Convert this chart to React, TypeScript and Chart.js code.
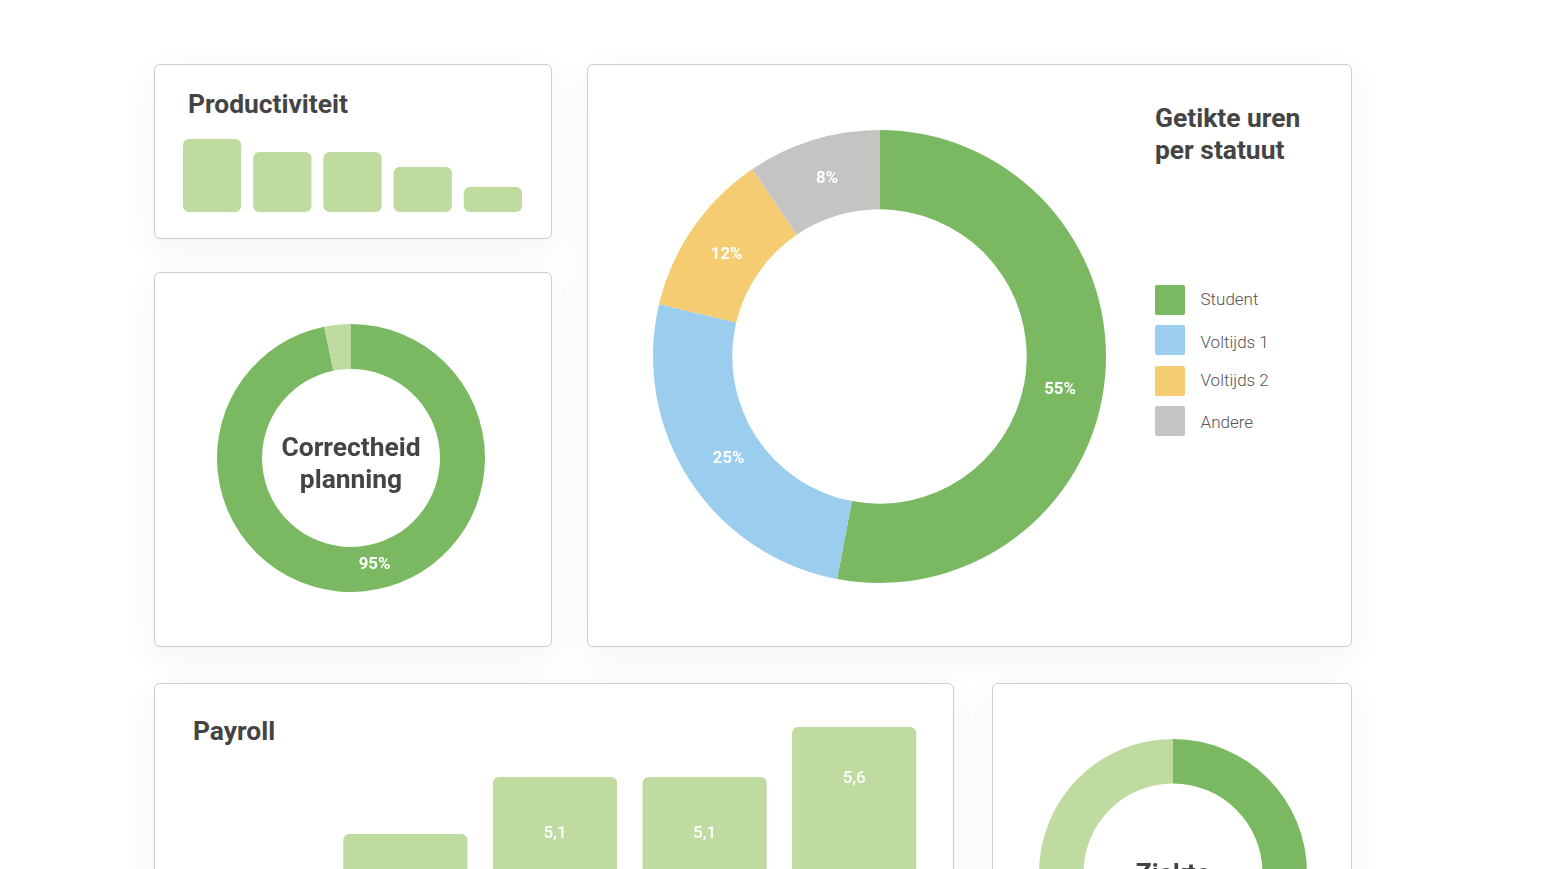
import { useEffect, useRef } from "react"
import { Chart, registerables } from "chart.js"
import type { ChartConfiguration, Plugin } from "chart.js"

Chart.register(...registerables)

const GREEN = "#7ab962"
const LIGHT_GREEN = "#bfdba0"
const BLUE = "#9acdee"
const YELLOW = "#f6cc72"
const GREY = "#c4c4c2"
const TEXT = "#444444"
const FONT = "Roboto, sans-serif"

const productivityValues = [7.3, 6, 6, 4.5, 2.5]

const planningSweep = [96.8, 3.2]
const planningTexts = ["95%", ""]

const statusCategories = ["Student", "Voltijds 1", "Voltijds 2", "Andere"]
const statusSweep = [53, 25.7, 11.8, 9.5]
const statusTexts = ["55%", "25%", "12%", "8%"]
const statusColors = [GREEN, BLUE, YELLOW, GREY]

// first bar sits below the fold in the reference, so it stays empty
const payrollValues = [null, 4.53, 5.1, 5.1, 5.6]

const sicknessSweep = [50, 50]

interface SliceLabelOptions {
  texts: string[]
  nudgeDeg?: number[]
  radiusShift?: number
  shift?: [number, number][]
}

// white percentages on the doughnut rings
const sliceLabels: Plugin<"doughnut"> = {
  id: "sliceLabels",
  afterDatasetsDraw(chart, _args, opts: SliceLabelOptions) {
    const ctx = chart.ctx
    ctx.save()
    ctx.font = `700 16.8px ${FONT}`
    ctx.fillStyle = "#ffffff"
    ctx.textAlign = "center"
    ctx.textBaseline = "middle"
    chart.getDatasetMeta(0).data.forEach((el: any, i: number) => {
      const text = opts.texts?.[i]
      if (!text) return
      const mid = (el.startAngle + el.endAngle) / 2 + ((opts.nudgeDeg?.[i] ?? 0) * Math.PI) / 180
      const r = (el.innerRadius + el.outerRadius) / 2 + (opts.radiusShift ?? 0)
      const [dx, dy] = opts.shift?.[i] ?? [0, 0]
      ctx.fillText(text, el.x + Math.cos(mid) * r + dx, el.y + Math.sin(mid) * r + dy)
    })
    ctx.restore()
  },
}

interface BarLabelOptions {
  below: number[]
}

// values inside the payroll bars, with a decimal comma
const barLabels: Plugin<"bar"> = {
  id: "barLabels",
  afterDatasetsDraw(chart, _args, opts: BarLabelOptions) {
    const ctx = chart.ctx
    const values = chart.data.datasets[0].data as (number | null)[]
    ctx.save()
    ctx.font = `500 17px ${FONT}`
    ctx.fillStyle = "#ffffff"
    ctx.textAlign = "center"
    ctx.textBaseline = "middle"
    chart.getDatasetMeta(0).data.forEach((el: any, i: number) => {
      const v = values[i]
      if (v == null) return
      ctx.fillText(v.toFixed(1).replace(".", ","), el.x, el.y + opts.below[i])
    })
    ctx.restore()
  },
}

function ChartCanvas({
  config,
  left,
  top,
  width,
  height,
}: {
  config: () => ChartConfiguration<any>
  left: number
  top: number
  width: number
  height: number
}) {
  const canvasRef = useRef<HTMLCanvasElement>(null)

  useEffect(() => {
    if (!canvasRef.current) return
    const chart = new Chart(canvasRef.current, config())
    return () => chart.destroy()
  }, [])

  return (
    <canvas
      ref={canvasRef}
      width={width}
      height={height}
      style={{ position: "absolute", left, top, width, height }}
    />
  )
}

function doughnutConfig(
  data: number[],
  colors: string[],
  cutout: string,
  labels: SliceLabelOptions,
): ChartConfiguration<any> {
  return {
    type: "doughnut",
    data: {
      labels: colors.map((_, i) => String(i)),
      datasets: [{ data, backgroundColor: colors, borderWidth: 0 }],
    },
    options: {
      responsive: false,
      animation: false,
      cutout,
      layout: { padding: 0 },
      plugins: {
        legend: { display: false },
        tooltip: { enabled: false },
        sliceLabels: labels,
      },
    },
    plugins: [sliceLabels],
  } as any
}

function barConfig(
  values: (number | null)[],
  min: number,
  max: number,
  borderRadius: any,
  below?: number[],
): ChartConfiguration<any> {
  return {
    type: "bar",
    data: {
      labels: values.map((_, i) => String(i + 1)),
      datasets: [
        {
          data: values,
          backgroundColor: LIGHT_GREEN,
          borderWidth: 0,
          borderRadius,
          borderSkipped: false,
          barPercentage: 0.83,
          categoryPercentage: 1,
        },
      ],
    },
    options: {
      responsive: false,
      animation: false,
      layout: { padding: 0 },
      scales: {
        x: { display: false },
        y: { display: false, min, max },
      },
      plugins: {
        legend: { display: false },
        tooltip: { enabled: false },
        barLabels: below ? { below } : undefined,
      },
    },
    plugins: below ? [barLabels] : [],
  } as any
}

function Card({ left, top, width, height }: { left: number; top: number; width: number; height: number }) {
  return (
    <div
      style={{
        position: "absolute",
        left,
        top,
        width,
        height,
        boxSizing: "border-box",
        background: "#fff",
        border: "1px solid #cdcdcd",
        borderRadius: 6,
        boxShadow: "0 10px 36px rgba(0,0,0,0.05)",
      }}
    />
  )
}

function Title({
  left,
  top,
  width,
  center,
  children,
}: {
  left: number
  top: number
  width?: number
  center?: boolean
  children: React.ReactNode
}) {
  return (
    <div
      style={{
        position: "absolute",
        left,
        top,
        width,
        font: `700 26.4px/32px ${FONT}`,
        color: TEXT,
        textAlign: center ? "center" : "left",
        whiteSpace: "nowrap",
      }}
    >
      {children}
    </div>
  )
}

const legendTops = [284.5, 325, 365.5, 406]
const legendTextCenters = [299, 342, 380, 422]

export default function App() {
  return (
    <div
      style={{
        position: "fixed",
        left: 0,
        top: 0,
        width: 1545,
        height: 869,
        overflow: "hidden",
        background: "#fff",
      }}
    >
      <Card left={154} top={64} width={398} height={175} />
      <Card left={154} top={272} width={398} height={375} />
      <Card left={587} top={64} width={765} height={583} />
      <Card left={154} top={683} width={800} height={400} />
      <Card left={992} top={683} width={360} height={400} />

      <Title left={188} top={88}>Productiviteit</Title>
      <ChartCanvas
        left={177}
        top={139}
        width={351}
        height={73}
        config={() => barConfig(productivityValues, 0, 7.3, 6)}
      />

      <ChartCanvas
        left={217}
        top={324}
        width={268}
        height={268}
        config={() =>
          doughnutConfig(planningSweep, [GREEN, LIGHT_GREEN], "66.4%", {
            texts: planningTexts,
            nudgeDeg: [-6.6, 0],
            radiusShift: -4,
            shift: [[0.5, 2], [0, 0]],
          })
        }
      />
      <Title left={201} top={431} width={300} center>
        Correctheid
        <br />
        planning
      </Title>

      <ChartCanvas
        left={653}
        top={130}
        width={453}
        height={453}
        config={() =>
          doughnutConfig(statusSweep, statusColors, "65%", {
            texts: statusTexts,
            nudgeDeg: [4.6, 0, 0, 0],
            shift: [[-3.5, 1], [6, 1], [1, 4], [2.5, 1]],
          })
        }
      />
      <Title left={1155} top={102}>
        Getikte uren
        <br />
        per statuut
      </Title>
      {statusCategories.map((name, i) => (
        <div key={name}>
          <div
            style={{
              position: "absolute",
              left: 1155,
              top: legendTops[i],
              width: 30,
              height: 30,
              borderRadius: 2,
              background: statusColors[i],
            }}
          />
          <div
            style={{
              position: "absolute",
              left: 1200.5,
              top: legendTextCenters[i] - 12,
              font: `300 17px/24px ${FONT}`,
              color: "#555",
              whiteSpace: "nowrap",
            }}
          >
            {name}
          </div>
        </div>
      ))}

      <Title left={193} top={715}>Payroll</Title>
      <ChartCanvas
        left={181}
        top={727}
        width={748}
        height={142}
        config={() =>
          barConfig(payrollValues, 4.18, 5.6, { topLeft: 6, topRight: 6, bottomLeft: 0, bottomRight: 0 }, [
            0, 57, 57, 57, 52,
          ])
        }
      />

      <ChartCanvas
        left={1039}
        top={739}
        width={268}
        height={268}
        config={() => doughnutConfig(sicknessSweep, [GREEN, LIGHT_GREEN], "66.8%", { texts: [] })}
      />
      <Title left={1023} top={857} width={300} center>
        Ziekte
      </Title>
    </div>
  )
}
